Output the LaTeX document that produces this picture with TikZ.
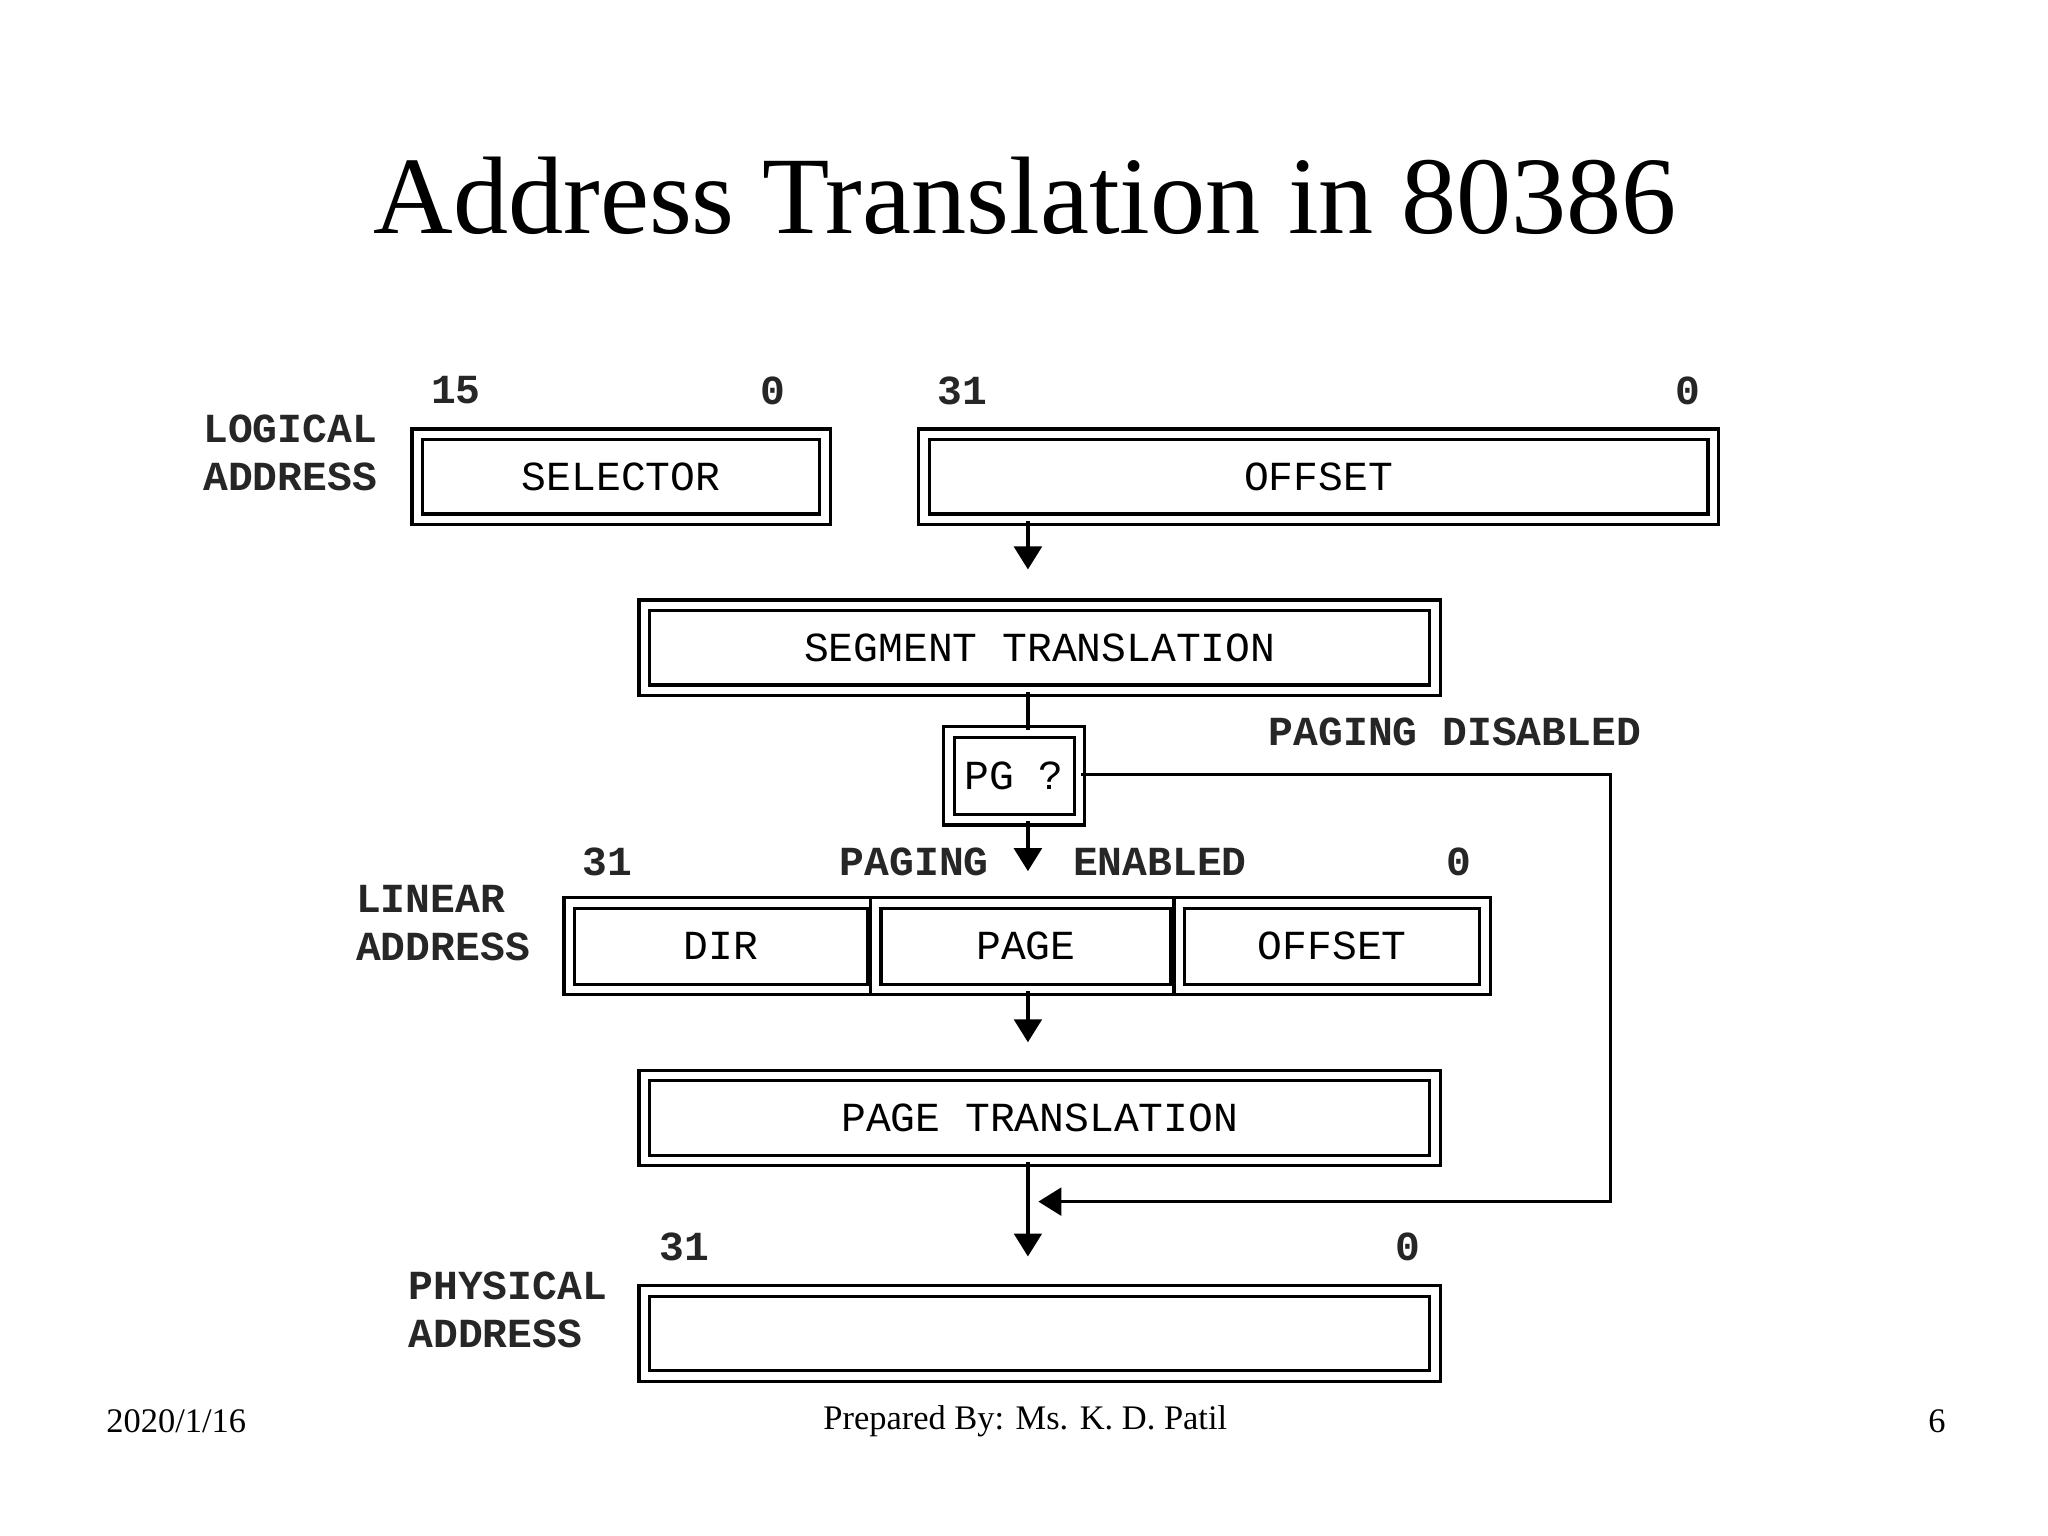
\documentclass[tikz,border=0pt]{standalone}
\usepackage{fontspec}
\setmainfont{Liberation Serif}
\newfontfamily\mono{Liberation Mono}
\usetikzlibrary{arrows.meta}
\begin{document}
\begin{tikzpicture}[x=0.01cm,y=-0.01cm,
  box/.style={draw,double,double distance=1.6pt,line width=0.7pt,inner sep=0pt,font=\mono\fontsize{9}{9}\selectfont},
  lbl/.style={font=\mono\bfseries\fontsize{9}{10.5}\selectfont,inner sep=0pt,text=black!85},
  ln/.style={line width=0.8pt},
  arr/.style={line width=0.8pt,-{Triangle[length=5pt,width=6pt]}}]
\useasboundingbox (0,0) rectangle (1568,1176);
\node[font=\fontsize{24}{26}\selectfont] (title) at (785,150) {Address Translation in 80386};
\node[font=\fontsize{7.5}{9}\selectfont] (d) at (135,1088) {2020/1/16};
\node[font=\fontsize{7.5}{9}\selectfont] (p) at (785,1088) {Prepared By: Ms. K. D. Patil};
\node[font=\fontsize{7.5}{9}\selectfont] (n) at (1483,1088) {6};
% boxes
\node[box,minimum width=3.12cm,minimum height=0.65cm] (sel) at (475.5,365) {SELECTOR};
\node[box,minimum width=6.04cm,minimum height=0.65cm] (off) at (1009.5,365) {OFFSET};
\node[box,minimum width=6.05cm,minimum height=0.65cm] (seg) at (796,496) {SEGMENT TRANSLATION};
\node[box,minimum width=1.00cm,minimum height=0.67cm] (pg) at (776.5,594) {PG ?};
\node[box,minimum width=2.32cm,minimum height=0.66cm] (dir) at (552,724.5) {DIR};
\node[box,minimum width=2.30cm,minimum height=0.66cm] (page) at (785.5,724.5) {PAGE};
\node[box,minimum width=2.34cm,minimum height=0.66cm] (loff) at (1020,724.5) {OFFSET};
\node[box,minimum width=6.05cm,minimum height=0.65cm] (ptr) at (796,856) {PAGE TRANSLATION};
\node[box,minimum width=6.05cm,minimum height=0.65cm] (phys) at (796,1021) {};
% labels
\node[lbl,align=left,anchor=west] (la) at (155,347) {LOGICAL\\ADDRESS};
\node[lbl] (l1) at (349,299) {15};
\node[lbl] (l2) at (592,299) {0};
\node[lbl] (l3) at (737,299) {31};
\node[lbl] (l4) at (1292,299) {0};
\node[lbl] (pd) at (1114,560) {PAGING DISABLED};
\node[lbl] (l5) at (465,660) {31};
\node[lbl] (pe1) at (700,660) {PAGING};
\node[lbl] (pe2) at (888,660) {ENABLED};
\node[lbl] (l6) at (1117,660) {0};
\node[lbl,align=left,anchor=west] (lin) at (272,707) {LINEAR\\ADDRESS};
\node[lbl] (l7) at (524,955) {31};
\node[lbl] (l8) at (1078,955) {0};
\node[lbl,align=left,anchor=west] (phl) at (312,1003) {PHYSICAL\\ADDRESS};
% connectors
\coordinate (a1) at (787,436);
\coordinate (a2) at (787,667);
\coordinate (a3) at (787,798);
\coordinate (a4) at (787,962);
\coordinate (c1) at (1233,593);
\coordinate (c2) at (1233,920);
\coordinate (c3) at (795,920);
\draw[arr] (off.south -| a1) -- (a1);
\draw[ln] (seg.south -| a1) -- (pg.north -| a1);
\draw[arr] (pg.south -| a1) -- (a2);
\draw[arr] (page.south -| a1) -- (a3);
\draw[arr] (ptr.south -| a1) -- (a4);
\draw[arr] (pg.east |- c1) -- (c1) -- (c2) -- (c3);
\end{tikzpicture}
\end{document}
